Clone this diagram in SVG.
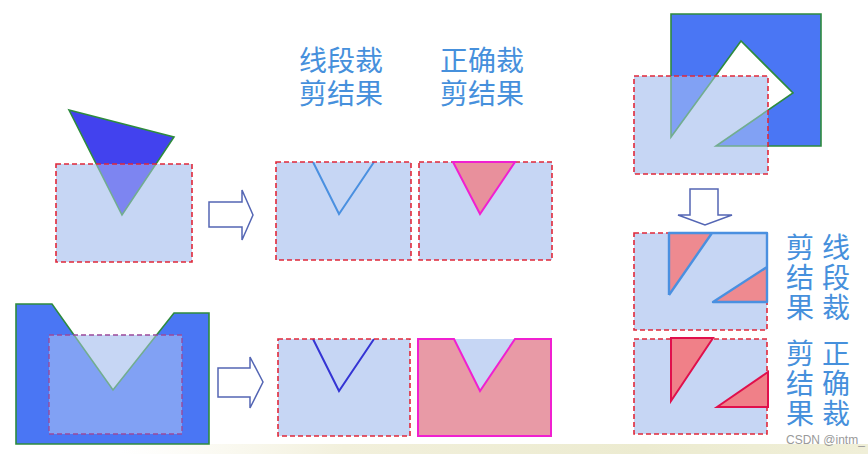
<svg xmlns="http://www.w3.org/2000/svg" width="868" height="454" viewBox="0 0 868 454">
<defs>
<style>
.tex{fill:#c6d6f4}
.ovl{fill:#c6d6f4;opacity:0.45}
.dash{fill:none;stroke:#e0283a;stroke-width:1.6;stroke-dasharray:5 3}
.blue{fill:#4a76f4;stroke:#2e8b3e;stroke-width:1.6}
.lbl{font-family:"Noto Sans CJK SC","Noto Sans",sans-serif;font-size:28px;fill:#4690dc}
.arrow{fill:#ffffff;stroke:#5466b4;stroke-width:1.5}
.pinkfill{fill:#ee8a90}
</style>
<linearGradient id="band" x1="0" y1="0" x2="1" y2="0">
<stop offset="0" stop-color="#f6f4e4" stop-opacity="0"/>
<stop offset="0.3" stop-color="#f2f0dc"/>
<stop offset="0.7" stop-color="#ecebd0"/>
<stop offset="1" stop-color="#f0efd8"/>
</linearGradient>
</defs>
<rect x="0" y="0" width="868" height="454" fill="#ffffff"/>
<rect x="120" y="444" width="748" height="10" fill="url(#band)"/>

<g id="panel1">
<rect class="tex" x="56" y="164" width="136" height="98"/>
<polygon points="69,110 174,137 122,215" fill="#4242ee" stroke="#2e8b3e" stroke-width="1.6"/>
<rect class="ovl" x="56" y="164" width="136" height="98"/>
<rect class="dash" x="56" y="164" width="136" height="98"/>
</g>

<g id="panel2">
<rect class="tex" x="276" y="162" width="135" height="98"/>
<polyline points="313,162 339,214 374,162" fill="none" stroke="#4a90e0" stroke-width="2"/>
<rect class="dash" x="276" y="162" width="135" height="98"/>
</g>

<g id="panel3">
<rect class="tex" x="419" y="162" width="133" height="98"/>
<rect class="dash" x="419" y="162" width="133" height="98"/>
<polygon points="453,162 515,162 480,214" fill="#e8909c" stroke="#f020d0" stroke-width="2"/>
</g>

<g id="label1">
<text class="lbl" x="341" y="71" text-anchor="middle">线段裁</text>
<text class="lbl" x="341" y="104" text-anchor="middle">剪结果</text>
</g>
<g id="label2">
<text class="lbl" x="482" y="71" text-anchor="middle">正确裁</text>
<text class="lbl" x="482" y="104" text-anchor="middle">剪结果</text>
</g>

<g id="panel4">
<rect class="tex" x="49" y="335" width="133" height="99"/>
<polygon class="blue" points="16,304 52,304 113,390 174,313 209,313 209,444 16,444"/>
<rect class="ovl" x="49" y="335" width="133" height="99"/>
<rect x="49" y="335" width="133" height="99" fill="none" stroke="#9a4a9a" stroke-width="1.4" stroke-dasharray="5 3"/>
</g>

<g id="panel5">
<rect class="tex" x="278" y="339" width="132" height="97"/>
<polyline points="313,339 339,391 374,339" fill="none" stroke="#3434d4" stroke-width="2"/>
<rect class="dash" x="278" y="339" width="132" height="97"/>
</g>

<g id="panel6">
<rect class="tex" x="418" y="339" width="133" height="97"/>
<polygon points="418,339 454,339 480,391 515,339 551,339 551,436 418,436" fill="#e89aa6" stroke="#f020d0" stroke-width="2"/>
</g>

<g id="panel7">
<rect class="tex" x="634" y="76" width="134" height="98"/>
<polygon class="blue" points="671,14 821,14 821,146 716,146 793,93 741,41 671,137"/>
<rect class="ovl" x="634" y="76" width="134" height="98"/>
<rect class="dash" x="634" y="76" width="134" height="98"/>
</g>

<g id="panel8">
<rect class="tex" x="634" y="233" width="133" height="97"/>
<polygon class="pinkfill" points="669,233 712,233 669,295"/>
<polygon class="pinkfill" points="713,302 767,267 767,302"/>
<rect class="dash" x="634" y="233" width="133" height="97"/>
<path d="M669,295 L669,233 L767,233 L767,302 L713,302 L767,267 M712,233 L669,295" fill="none" stroke="#4a90e0" stroke-width="2.4" stroke-linejoin="round"/>
</g>

<g id="panel9">
<rect class="tex" x="634" y="339" width="133" height="95"/>
<rect class="dash" x="634" y="339" width="133" height="95"/>
<polygon points="671,338 713,338 671,401" fill="#f08088" stroke="#e0104c" stroke-width="2"/>
<polygon points="717,407 768,372 768,407" fill="#f08088" stroke="#e0104c" stroke-width="2"/>
</g>

<g id="label3">
<text class="lbl" x="800" y="258" text-anchor="middle">剪</text>
<text class="lbl" x="800" y="288" text-anchor="middle">结</text>
<text class="lbl" x="800" y="318" text-anchor="middle">果</text>
<text class="lbl" x="836" y="258" text-anchor="middle">线</text>
<text class="lbl" x="836" y="288" text-anchor="middle">段</text>
<text class="lbl" x="836" y="318" text-anchor="middle">裁</text>
</g>
<g id="label4">
<text class="lbl" x="800" y="364" text-anchor="middle">剪</text>
<text class="lbl" x="800" y="394" text-anchor="middle">结</text>
<text class="lbl" x="800" y="424" text-anchor="middle">果</text>
<text class="lbl" x="836" y="364" text-anchor="middle">正</text>
<text class="lbl" x="836" y="394" text-anchor="middle">确</text>
<text class="lbl" x="836" y="424" text-anchor="middle">裁</text>
</g>

<g id="connectors">
<polygon class="arrow" points="209,202 242,202 242,190 253,215 242,240 242,227 209,227"/>
<polygon class="arrow" points="218,368 250,368 250,357 263,382 250,408 250,397 218,397"/>
<polygon class="arrow" points="690,189 718,189 718,215 732,215 705,225 678,215 690,215"/>
</g>

<text x="786" y="444" font-family="Liberation Sans, Arial, sans-serif" font-size="12" fill="#9a9a9a">CSDN @intm_</text>
</svg>
